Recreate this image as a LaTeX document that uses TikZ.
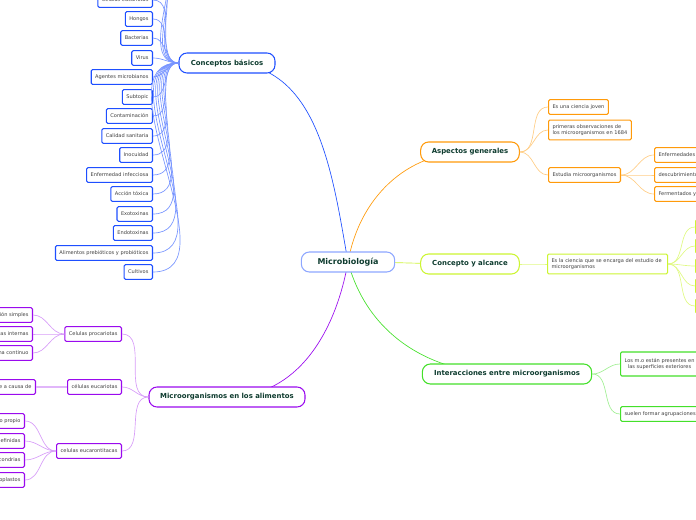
\documentclass[tikz,border=0pt]{standalone}
\usepackage{fontspec}
\setmainfont{DejaVu Sans}
\usetikzlibrary{positioning}
\definecolor{cblue}{HTML}{1E4FFF}
\definecolor{corange}{HTML}{FF9A0A}
\definecolor{cyellow}{HTML}{CCF532}
\definecolor{cgreen}{HTML}{44E02A}
\definecolor{cpurple}{HTML}{9A0AEE}
\definecolor{ctext}{HTML}{0D3B2E}
\tikzset{
  main/.style={rectangle, rounded corners=6pt, draw, thick, fill=white, text=ctext, font=\fontsize{5.2}{6}\selectfont\bfseries, minimum height=15pt, inner xsep=8pt},
  leaf/.style={rectangle, rounded corners=1pt, draw, thick, fill=white, text=black!75, font=\fontsize{3.8}{4.6}\selectfont, minimum height=11pt, inner xsep=3pt, align=left},
  link/.style={line width=0.5pt}
}
\begin{document}
\begin{tikzpicture}[x=0.75pt,y=-0.75pt]
    \useasboundingbox (0,0) rectangle (696,520);
    \clip (0,0) rectangle (696,520);

    % Links
    \coordinate (root) at (348,262);
    \draw[link, cblue] (root) to[out=100,in=0] (227,63);
    \draw[link, corange] (root) to[out=80,in=180] (470,152);
    \draw[link, cyellow] (root) to[out=0,in=180] (470,264);
    \draw[link, cgreen] (root) to[out=-75,in=180] (507,374);
    \draw[link, cpurple] (root) to[out=-100,in=0] (227,397);

    % Root and main topics
    \node[main, draw=cblue!50, minimum width=70pt, font=\fontsize{6}{7}\selectfont\bfseries] (micro) at (348,262) {Microbiología};
    \node[main, draw=cblue, minimum width=72pt] (basic) at (227,63) {Conceptos básicos};
    \node[main, draw=corange, minimum width=74pt] (gen) at (470,152) {Aspectos generales};
    \node[main, draw=cyellow, minimum width=74pt] (conc) at (470,264) {Concepto y alcance};
    \node[main, draw=cgreen, minimum width=127pt] (inter) at (507,374) {Interacciones entre microorganismos};
    \node[main, draw=cpurple, minimum width=117pt] (alim) at (227,397) {Microorganismos en los alimentos};

    % Conceptos basicos
    \foreach \name/\y/\txt in {b1/0/Células eucariotas, b2/19/Hongos, b3/38/Bacterias, b4/58/Virus,
      b5/77/Agentes microbianos, b6/97/Subtopic, b7/116/Contaminación, b8/136/Calidad sanitaria,
      b9/155/Inocuidad, b10/175/Enfermedad infecciosa, b11/194/Acción tóxica, b12/214/Exotoxinas,
      b13/233/Endotoxinas, b14/253/Alimentos prebióticos y probióticos, b15/272/Cultivos} {
      \node[leaf, draw=cblue, anchor=east] (\name) at (153,\y) {\txt};
      \draw[link, cblue!60] (basic.west) to[out=180,in=0] (\name.east);
    }
    \foreach \y in {-20,-40,-60} {
      \coordinate (up\y) at (153,\y);
      \draw[link, cblue!60] (basic.west) to[out=180,in=0] (up\y);
    }

    % Aspectos generales
    \node[leaf, draw=corange, anchor=west] (g1) at (548,107) {Es una ciencia joven};
    \node[leaf, draw=corange, anchor=west] (g2) at (548,130) {primeras observaciones de\\los microorganismos en 1684};
    \node[leaf, draw=corange, anchor=west] (g3) at (548,175) {Estudia microorganismos};
    \node[leaf, draw=corange, anchor=west] (g31) at (654,155) {Enfermedades infecciosas};
    \node[leaf, draw=corange, anchor=west] (g32) at (654,175) {descubrimiento de vacunas};
    \node[leaf, draw=corange, anchor=west] (g33) at (654,194) {Fermentados y alimentos};
    \foreach \t in {g1,g2,g3} \draw[link, corange!50] (gen.east) to[out=0,in=180] (\t.west);
    \foreach \t in {g31,g32,g33} \draw[link, corange!50] (g3.east) to[out=0,in=180] (\t.west);

    % Concepto y alcance
    \node[leaf, draw=cyellow, anchor=west, text width=84pt] (c1) at (547,264) {Es la ciencia que se encarga del estudio de microorganismos};
    \draw[link, cyellow!60] (conc.east) to[out=0,in=180] (c1.west);
    \foreach \name/\y in {c11/227, c12/246, c13/266, c14/286, c15/306} {
      \node[leaf, draw=cyellow, anchor=west, minimum width=20pt] (\name) at (695,\y) {};
      \draw[link, cyellow!60] (c1.east) to[out=0,in=180] (\name.west);
    }

    % Interacciones
    \node[leaf, draw=cgreen, anchor=west, minimum height=18pt, align=center] (i1) at (620,364) {Los m.o están presentes en\\las superficies exteriores};
    \node[leaf, draw=cgreen, anchor=west] (i2) at (620,414) {suelen formar agrupaciones};
    \foreach \t in {i1,i2} \draw[link, cgreen!50] (inter.east) to[out=0,in=180] (\t.west);

    % Microorganismos en los alimentos
    \node[leaf, draw=cpurple, anchor=east] (a1) at (122,334) {Celulas procariotas};
    \node[leaf, draw=cpurple, anchor=east] (a2) at (122,387) {células eucariotas};
    \node[leaf, draw=cpurple, anchor=east] (a3) at (122,451) {celulas eucarontitacas};
    \foreach \t in {a1,a2,a3} \draw[link, cpurple!40] (alim.west) to[out=180,in=0] (\t.east);
    \node[leaf, draw=cpurple, anchor=east] (a11) at (33,315) {Organización simples};
    \node[leaf, draw=cpurple, anchor=east] (a12) at (33,334) {Sin membranas internas};
    \node[leaf, draw=cpurple, anchor=east] (a13) at (33,353) {ADN en un cromosoma continuo};
    \foreach \t in {a11,a12,a13} \draw[link, cpurple!40] (a1.west) to[out=180,in=0] (\t.east);
    \node[leaf, draw=cpurple, anchor=east] (a21) at (36,387) {Reciben su nombre a causa de};
    \draw[link, cpurple!30, line width=1.5pt] (a2.west) -- (a21.east);
    \node[leaf, draw=cpurple, anchor=east] (a31) at (25,421) {Núcleo propio};
    \node[leaf, draw=cpurple, anchor=east] (a32) at (25,441) {Organelas definidas};
    \node[leaf, draw=cpurple, anchor=east] (a33) at (25,460) {Mitocondrias};
    \node[leaf, draw=cpurple, anchor=east] (a34) at (25,480) {Cloroplastos};
    \foreach \t in {a31,a32,a33,a34} \draw[link, cpurple!40] (a3.west) to[out=180,in=0] (\t.east);

  \end{tikzpicture}
\end{document}
